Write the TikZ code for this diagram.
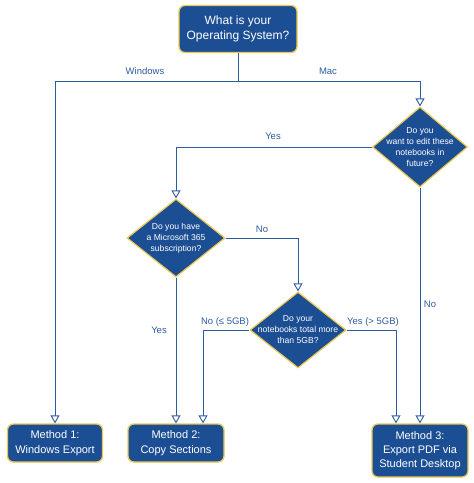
\documentclass[tikz,border=0pt]{standalone}
\usepackage{fontspec}
\setmainfont{Liberation Sans}
\usetikzlibrary{shapes.geometric,arrows.meta}
\definecolor{boxblue}{RGB}{28,78,148}
\definecolor{gold}{RGB}{236,200,80}
\definecolor{lineblue}{RGB}{45,92,160}
\tikzset{
  termbox/.style={draw=gold, line width=1.3pt, fill=boxblue, rounded corners=6pt, text=white, align=center, inner sep=2pt},
  dshape/.style={diamond, draw=gold, line width=1.2pt, fill=boxblue, inner sep=0pt},
  dtext/.style={text=white, align=center, font=\fontsize{8.6}{11}\selectfont},
  conn/.style={draw=lineblue, line width=0.9pt},
  arr/.style={conn, -{Triangle[open, length=8pt, width=9pt, fill=white]}},
  lab/.style={text=lineblue, font=\fontsize{9.5}{11}\selectfont}
}
\begin{document}
\begin{tikzpicture}[x=1pt,y=-1pt]
\useasboundingbox (0,0) rectangle (474,483);
% nodes
\node[termbox, minimum width=118pt, minimum height=47pt, font=\fontsize{12}{14.5}\selectfont] (top) at (238,29) {What is your\\Operating System?};
\node[dshape, minimum width=95pt, minimum height=80pt] (d1) at (420,147) {};
\node[dtext] (d1t) at (d1) {Do you\\want to edit these\\notebooks in\\future?};
\node[dshape, minimum width=98pt, minimum height=78pt] (d2) at (176,238) {};
\node[dtext] (d2t) at (d2) {Do you have\\a Microsoft 365\\subscription?};
\node[dshape, minimum width=96pt, minimum height=76pt] (d3) at (298,330) {};
\node[dtext] (d3t) at (d3) {Do your\\notebooks total more\\than 5GB?};
\node[termbox, minimum width=95pt, minimum height=38pt, font=\fontsize{11}{14.5}\selectfont] (m1) at (55,443) {Method 1:\\Windows Export};
\node[termbox, minimum width=96pt, minimum height=38pt, font=\fontsize{11}{14.5}\selectfont] (m2) at (176,443) {Method 2:\\Copy Sections};
\node[termbox, minimum width=96pt, minimum height=53pt, font=\fontsize{11}{14}\selectfont] (m3) at (420,450.5) {Method 3:\\Export PDF via\\Student Desktop};
% connectors
\coordinate (j) at (238,81);
\draw[conn] (top) -- (j);
\draw[arr] (j) -| (m1.north);
\draw[arr] (j) -| (d1.north);
\draw[arr] (d1.west) -| (d2.north);
\draw[arr] (d2.east) -| (d3.north);
\draw[arr] (d2.south) -- (m2.north);
\draw[arr] (d3.west) -| ([xshift=27pt]m2.north);
\draw[arr] (d3.east) -| ([xshift=-24pt]m3.north);
\draw[arr] (d1.south) -- (m3.north);
% labels
\node[lab] (lw) at (145,71) {Windows};
\node[lab] (lm) at (328,71) {Mac};
\node[lab] (ly1) at (273,136) {Yes};
\node[lab] (ln1) at (262,229) {No};
\node[lab] (ly2) at (159,330) {Yes};
\node[lab] (ln2) at (225,322) {No (≤ 5GB)};
\node[lab] (ly3) at (373,322) {Yes (> 5GB)};
\node[lab] (ln3) at (430,304) {No};
\end{tikzpicture}
\end{document}
